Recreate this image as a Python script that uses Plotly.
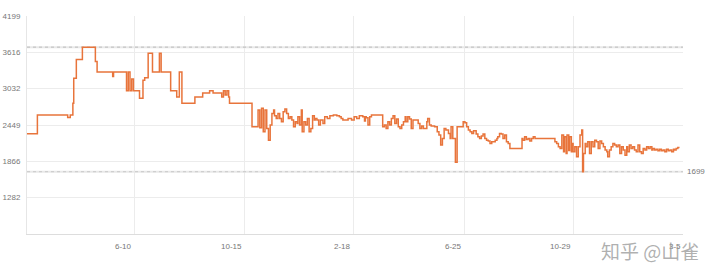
import pandas as pd
import plotly.graph_objects as go

# ---- data ----
start_date = "2019-02-06"
day_offsets = [
    0, 12, 47, 50, 53, 54, 57, 64, 79, 81, 99, 100, 115, 117, 119, 121, 123, 130, 134, 136,
    140, 145, 153, 155, 166, 173, 176, 179, 194, 203, 211, 215, 225, 227, 229, 231, 233, 234,
    257, 260, 267, 269, 271, 273, 275, 277, 279, 281, 283, 285, 286, 288, 290, 292, 294, 296,
    298, 300, 302, 304, 306, 308, 310, 312, 313, 315, 317, 318, 320, 322, 324, 326, 328, 330,
    332, 333, 335, 337, 339, 342, 344, 347, 350, 354, 358, 361, 363, 365, 368, 371, 375, 378,
    381, 384, 388, 390, 391, 392, 394, 396, 398, 411, 413, 415, 417, 419, 421, 423, 425, 427,
    429, 431, 433, 435, 437, 438, 440, 442, 444, 446, 452, 454, 456, 458, 462, 463, 465, 467,
    471, 474, 476, 478, 480, 482, 484, 487, 489, 490, 492, 495, 497, 498, 504, 506, 508, 510,
    512, 514, 516, 519, 521, 523, 525, 527, 529, 531, 533, 535, 537, 541, 543, 544, 546, 548,
    550, 552, 554, 556, 558, 572, 573, 575, 577, 579, 581, 583, 585, 587, 610, 612, 614, 616,
    618, 620, 621, 623, 624, 626, 627, 629, 630, 631, 633, 635, 637, 639, 641, 642, 643, 645,
    646, 648, 650, 652, 654, 656, 658, 660, 662, 664, 666, 668, 670, 671, 673, 675, 677, 679,
    681, 683, 685, 687, 689, 691, 693, 694, 696, 698, 700, 702, 704, 706, 708, 710, 712, 714,
    716, 718, 720, 722, 723, 725, 727, 729, 731, 733, 735, 737, 739, 741, 743, 745, 747, 748,
    750, 752, 754, 756,
]
prices = [
    2309, 2609, 2569, 2609, 2799, 3199, 3499, 3699, 3469, 3299, 3229, 3299, 2999, 3299, 2999, 3189, 2999, 2879, 3169, 3209,
    3599, 3299, 3599, 3299, 2999, 2899, 3299, 2799, 2899, 2962, 2999, 2962, 2899, 2999, 2929, 2999, 2899, 2799,
    2799, 2420, 2688, 2404, 2716, 2340, 2688, 2394, 2206, 2447, 2635, 2688, 2597, 2555, 2635, 2555, 2500, 2661,
    2704, 2635, 2555, 2581, 2528, 2420, 2500, 2475, 2581, 2447, 2688, 2340, 2500, 2447, 2555, 2340, 2394, 2597,
    2528, 2555, 2528, 2447, 2528, 2475, 2581, 2555, 2597, 2608, 2597, 2581, 2555, 2528, 2528, 2555, 2528, 2581,
    2555, 2597, 2581, 2512, 2581, 2565, 2447, 2581, 2608, 2420, 2447, 2394, 2500, 2447, 2555, 2597, 2475, 2544,
    2420, 2394, 2447, 2500, 2581, 2500, 2581, 2544, 2394, 2528, 2475, 2394, 2434, 2394, 2500, 2555, 2447,
    2434, 2420, 2340, 2287, 2126, 2234, 2394, 2367, 2314, 2234, 2420, 2234, 1849, 2420, 2420, 2500, 2484, 2420,
    2367, 2340, 2314, 2356, 2303, 2259, 2234, 2271, 2303, 2234, 2206, 2194, 2153, 2179, 2206, 2234, 2259, 2314,
    2303, 2234, 2287, 2179, 2153, 2073, 2234, 2206, 2259, 2218, 2234, 2194, 2234, 2259, 2234, 2179, 2153, 2099,
    2073, 2287, 2018, 2259, 1993, 2287, 2040, 2259, 2018, 2153, 2018, 2099, 1938, 2099, 2287, 2367, 1699, 1993,
    2153, 2099, 2179, 1993, 2179, 2099, 2206, 2179, 2073, 2194, 2153, 2099, 2046, 2018, 1938, 2046, 2099, 2153,
    2126, 2099, 2126, 1993, 2099, 2046, 1965, 2099, 2018, 2126, 2073, 2099, 2046, 2018, 2126, 2018, 1993, 2073,
    2046, 2099, 2073, 2099, 2046, 2073, 2046, 2060, 2035, 2060, 2035, 2046, 2018, 2060, 2035, 2046, 2018, 2060,
    2046, 2073, 2089, 2089,
]
tick_dates = ["2019-06-10", "2019-10-15", "2020-02-18", "2020-06-25", "2020-10-29", "2021-03-05"]
tick_labels = ["6-10", "10-15", "2-18", "6-25", "10-29", "3-5"]
y_ticks = [1282.33, 1865.67, 2449.0, 3032.33, 3615.67, 4199.0]
y_labels = ["1282", "1866", "2449", "3032", "3616", "4199"]
y_min, y_max = 699, 4199
max_price = 3699
min_price = 1699

dates = pd.to_datetime(start_date) + pd.to_timedelta(day_offsets, unit="D")

fig = go.Figure()
x_lo, x_hi = dates[0], pd.to_datetime(tick_dates[-1])

for val, col, w, dash in [(max_price, "#e8e8e8", 2, "solid"), (max_price, "#bdbdbd", 1, "dot"),
                          (min_price, "#e8e8e8", 2, "solid"), (min_price, "#c8c8c8", 1, "dot")]:
    fig.add_trace(go.Scatter(x=[x_lo, x_hi], y=[val, val], mode="lines",
                             line=dict(color=col, width=w, dash=dash),
                             hoverinfo="skip", showlegend=False))

fig.add_trace(go.Scatter(x=dates, y=prices, mode="lines",
                         line=dict(color="#e8743b", width=1.5, shape="hv"),
                         showlegend=False))

font = dict(family="Liberation Sans, Arial, sans-serif", size=8, color="#777777")

for d, t in zip(tick_dates, tick_labels):
    fig.add_annotation(x=d, xref="x", y=0, yref="paper", text=t, showarrow=False,
                       xanchor="right", yanchor="top", yshift=-6, font=font)

fig.add_annotation(x=1, xref="paper", y=min_price, yref="y", text=str(min_price),
                   showarrow=False, xanchor="left", yanchor="middle", xshift=2, font=font)

fig.add_annotation(x=1, xref="paper", y=0, yref="paper", text="知乎 @山雀", showarrow=False,
                   xanchor="right", yanchor="top", xshift=18, yshift=-1,
                   font=dict(family="Noto Sans CJK SC", size=19, color="rgba(150,150,150,0.75)"))

fig.update_layout(
    width=720, height=272,
    margin=dict(l=27, r=37, t=16, b=38, autoexpand=False),
    paper_bgcolor="white", plot_bgcolor="white",
    font=font,
    xaxis=dict(range=[x_lo, x_hi], tickvals=tick_dates, showticklabels=False,
               showgrid=True, gridcolor="#ececec", gridwidth=1, automargin=False,
               showline=True, linecolor="#dddddd", linewidth=1, zeroline=False, ticks=""),
    yaxis=dict(range=[y_min, y_max], tickvals=y_ticks, ticktext=y_labels,
               showgrid=True, gridcolor="#ececec", gridwidth=1, automargin=False,
               showline=True, linecolor="#e6e6e6", linewidth=1, zeroline=False,
               ticks="", ticklabelstandoff=4, tickfont=font),
)

fig.write_html("out.html")
